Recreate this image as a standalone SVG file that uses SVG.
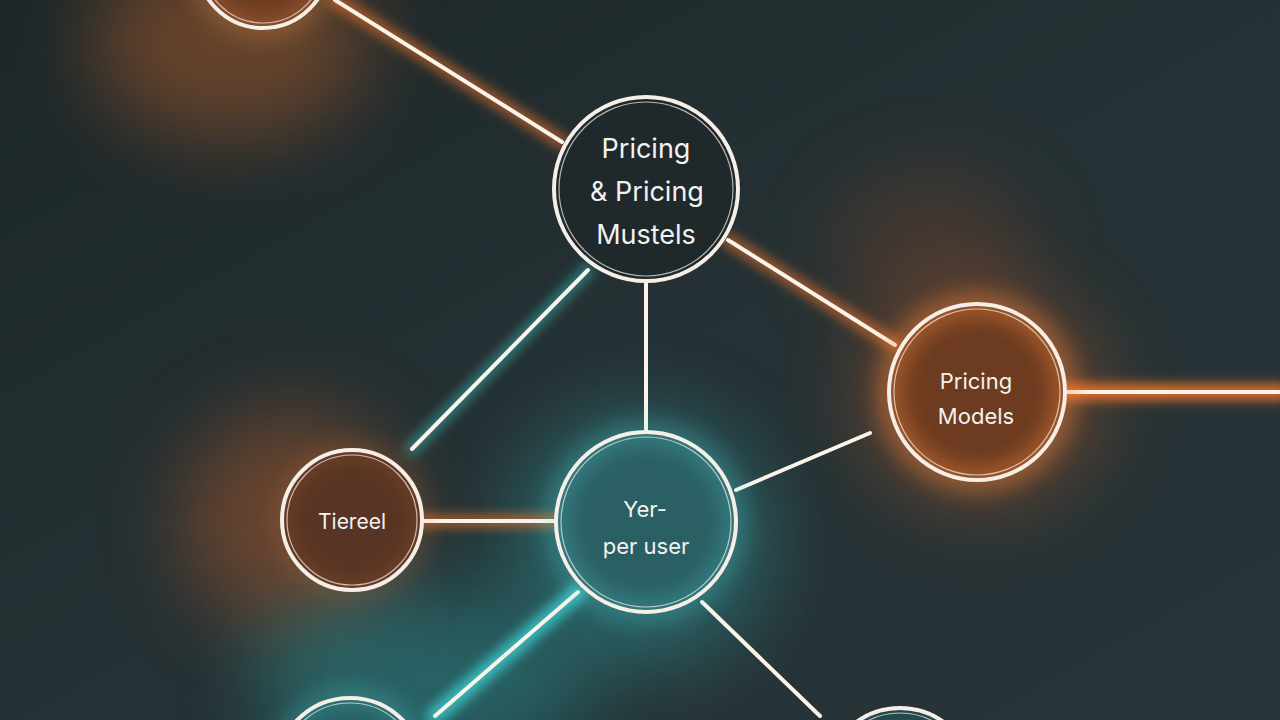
<svg xmlns="http://www.w3.org/2000/svg" width="1280" height="720" viewBox="0 0 1280 720">
<defs>
<style>
.ring{fill:none;stroke:#f5efe8;stroke-width:4}
.inner{fill:none;stroke:#f5efe8;stroke-width:1.2;opacity:0.7}
.lbl{font-family:Inter,"Open Sans","Liberation Sans",sans-serif;fill:#f2f2f0;text-anchor:middle;dominant-baseline:central}
.core{stroke:#fbf4ea;stroke-width:4;stroke-linecap:round;fill:none}
.og{stroke:#ff7a2a;stroke-width:14;stroke-linecap:round;opacity:0.55;filter:url(#blur6)}
.cg{stroke:#3fe0e0;stroke-width:14;stroke-linecap:round;opacity:0.55;filter:url(#blur6)}
</style>
<filter id="blur6" filterUnits="userSpaceOnUse" x="-200" y="-200" width="1680" height="1120"><feGaussianBlur stdDeviation="6"/></filter>
<filter id="blur40" x="-100%" y="-100%" width="300%" height="300%"><feGaussianBlur stdDeviation="40"/></filter>
<filter id="blur14" x="-50%" y="-50%" width="200%" height="200%"><feGaussianBlur stdDeviation="12"/></filter>
<linearGradient id="bg" x1="0" y1="0" x2="1" y2="1">
<stop offset="0" stop-color="#1d2729"/>
<stop offset="0.5" stop-color="#253134"/>
<stop offset="1" stop-color="#283437"/>
</linearGradient>
</defs>
<rect width="1280" height="720" fill="url(#bg)"/>
<g id="glows">
<ellipse cx="230" cy="40" rx="140" ry="100" fill="#b8602a" opacity="0.45" filter="url(#blur40)"/>
<ellipse cx="290" cy="520" rx="110" ry="110" fill="#a8572a" opacity="0.5" filter="url(#blur40)"/>
<ellipse cx="980" cy="395" rx="120" ry="110" fill="#b85a28" opacity="0.45" filter="url(#blur40)"/>
<ellipse cx="640" cy="540" rx="130" ry="130" fill="#2e9ea0" opacity="0.45" filter="url(#blur40)"/>
<ellipse cx="420" cy="680" rx="170" ry="90" fill="#2a9a9c" opacity="0.45" filter="url(#blur40)"/>
<ellipse cx="930" cy="250" rx="100" ry="80" fill="#8a4a2a" opacity="0.3" filter="url(#blur40)"/>
</g>
<g id="connectors">
<line class="og" x1="335" y1="0" x2="562" y2="142"/>
<line class="core" x1="335" y1="0" x2="562" y2="142"/>
<line class="og" x1="728" y1="240" x2="895" y2="345"/>
<line class="core" x1="728" y1="240" x2="895" y2="345" stroke-width="3"/>
<line class="og" x1="1066" y1="392" x2="1280" y2="392" style="stroke-width:16;opacity:0.85"/>
<line class="core" x1="1066" y1="392" x2="1280" y2="392"/>
<line class="core" x1="646" y1="283" x2="646" y2="432" stroke-width="3.5"/>
<line class="cg" x1="588" y1="270" x2="412" y2="449" style="opacity:0.4"/>
<line class="core" x1="588" y1="270" x2="412" y2="449" stroke-width="3.5"/>
<line class="og" x1="422" y1="521" x2="555" y2="521" style="stroke-width:12;opacity:0.6"/>
<line class="core" x1="422" y1="521" x2="555" y2="521"/>
<line class="core" x1="736" y1="490" x2="870" y2="433" stroke-width="3.5"/>
<line class="cg" x1="578" y1="592" x2="435" y2="716" style="stroke-width:18;opacity:0.7"/>
<line class="core" x1="578" y1="592" x2="435" y2="716"/>
<line class="core" x1="702" y1="602" x2="820" y2="716" stroke-width="3.5"/>
</g>
<g id="node-topleft">
<circle cx="263" cy="-38" r="66" fill="#6a3a20"/>
<circle cx="263" cy="-38" r="66" stroke="#ff9a50" stroke-width="10" fill="none" opacity="0.6" filter="url(#blur14)"/>
<circle class="ring" cx="263" cy="-38" r="66"/>
<circle class="inner" cx="263" cy="-38" r="61"/>
</g>
<g id="node-pricing-main">
<circle cx="646" cy="189" r="92" fill="#1f292b"/>
<circle class="ring" cx="646" cy="189" r="92"/>
<circle class="inner" cx="646" cy="189" r="87"/>
<text class="lbl" x="646" y="148" font-size="27">Pricing</text>
<text class="lbl" x="647" y="191" font-size="27">&amp; Pricing</text>
<text class="lbl" x="646" y="234" font-size="27">Mustels</text>
</g>
<g id="node-pricing-models">
<circle cx="977" cy="392" r="88" fill="#6c3b20"/>
<circle cx="977" cy="392" r="88" stroke="#ff8a3a" stroke-width="14" fill="none" opacity="0.7" filter="url(#blur14)"/>
<circle class="ring" cx="977" cy="392" r="88"/>
<circle class="inner" cx="977" cy="392" r="83"/>
<text class="lbl" x="976" y="381" font-size="22">Pricing</text>
<text class="lbl" x="976" y="416" font-size="22">Models</text>
</g>
<g id="node-tiered">
<circle cx="352" cy="520" r="70" fill="#573424"/>
<circle cx="352" cy="520" r="70" stroke="#ff8a3a" stroke-width="8" fill="none" opacity="0.35" filter="url(#blur14)"/>
<circle class="ring" cx="352" cy="520" r="70"/>
<circle class="inner" cx="352" cy="520" r="65"/>
<text class="lbl" x="352" y="521" font-size="21">Tiereel</text>
</g>
<g id="node-per-user">
<circle cx="646" cy="522" r="90" fill="#2a6064"/>
<circle cx="646" cy="522" r="90" stroke="#5ff0f0" stroke-width="10" fill="none" opacity="0.5" filter="url(#blur14)"/>
<circle class="ring" cx="646" cy="522" r="90"/>
<circle class="inner" cx="646" cy="522" r="85"/>
<text class="lbl" x="645" y="509" font-size="22">Yer-</text>
<text class="lbl" x="646" y="546" font-size="22">per user</text>
</g>
<g id="node-bottomleft">
<circle cx="350" cy="772" r="74" fill="#245a5e"/>
<circle cx="350" cy="772" r="74" stroke="#5ff0f0" stroke-width="10" fill="none" opacity="0.5" filter="url(#blur14)"/>
<circle class="ring" cx="350" cy="772" r="74"/>
<circle class="inner" cx="350" cy="772" r="69"/>
</g>
<g id="node-bottomright">
<circle cx="900" cy="782" r="74" fill="#244a4e"/>
<circle class="ring" cx="900" cy="782" r="74"/>
<circle class="inner" cx="900" cy="782" r="69"/>
</g>
</svg>
